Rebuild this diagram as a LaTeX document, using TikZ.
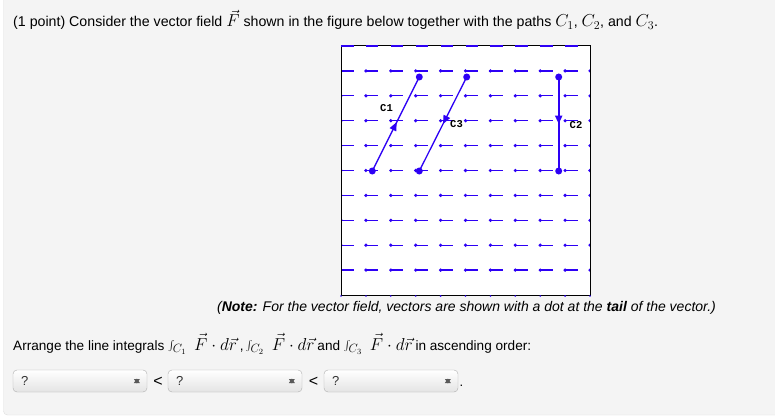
\documentclass[tikz,border=0pt]{standalone}
\usepackage[no-math]{fontspec}
\setmainfont{Liberation Sans}
\newfontfamily\monob{Liberation Mono}[BoldFont={Liberation Mono Bold}]
\usetikzlibrary{arrows.meta,decorations.markings}
\definecolor{fld}{RGB}{45,0,245}
\definecolor{panel}{RGB}{244,244,244}
\definecolor{panelline}{RGB}{222,222,222}
\definecolor{selline}{RGB}{175,175,175}
\definecolor{selbot}{RGB}{228,228,228}
\definecolor{spin}{RGB}{90,90,90}
\newcommand{\mjbig}[1]{{\fontsize{17.3}{18}\selectfont$#1$}}
\newcommand{\mjint}[1]{{\fontsize{17}{18}\selectfont$#1$}}
\newcommand{\lint}[1]{\mjint{\int_{C_{#1}}\;\vec F\cdot d\vec r\,}}
\tikzset{
  txt/.style={anchor=base west, inner sep=0pt},
  pdot/.style={circle, fill=fld, inner sep=0pt, minimum size=7pt},
  lab/.style={inner sep=0pt, font=\fontsize{10.5}{12}\selectfont\monob\bfseries},
  cpath/.style={draw=fld, line width=1.3pt},
  midarrow/.style={postaction={decorate}, decoration={markings,
      mark=at position #1 with {\arrow{Triangle[length=8.5pt,width=7pt]}}}},
  selbox/.style={draw=selline, rounded corners=4pt, top color=white, bottom color=selbot,
      minimum width=134pt, minimum height=22pt, inner sep=0pt},
  qmark/.style={anchor=west, inner sep=0pt, text=black!80, font=\fontsize{13}{15}\selectfont},
}
\begin{document}
\begin{tikzpicture}[x=1pt,y=-1pt]
\useasboundingbox (0,0) rectangle (775,417);
\fill[white] (0,0) rectangle (775,417);
\draw[panelline, fill=panel, rounded corners=4pt] (3.5,-10) rectangle (790,415);

% title line
\node[txt, font=\fontsize{14.2}{15}\selectfont] (t1) at (13,26.7) {(1 point) Consider the vector field \mjbig{\vec F} shown in the figure below together with the paths \mjbig{C_1}, \mjbig{C_2}, and \mjbig{C_3}.};

% plot
\fill[white] (341,46) rectangle (590,295);
\begin{scope}
  \clip (341,46) rectangle (590,295);
  \foreach \i in {0,...,10}{
    \foreach \j in {1,...,9}{
      \fill[fld] (341+24.9*\i, 46+24.9*\j) circle[radius=1.8pt];
      \draw[fld, line width=1.3pt] (340+24.9*\i, 46+24.9*\j) -- ++(13.5,0);
    }
  }
\end{scope}
\draw[black, line width=1pt] (341,46) rectangle (590,295);
\foreach \i in {0,...,9}{
  \draw[fld, line width=1.1pt] (341+24.9*\i, 46) -- ++(12.5,0);
}
\foreach \i in {0,...,10}{
  \fill[fld] (341+24.9*\i, 296) circle[radius=0.9pt];
}

% paths
\node[pdot] (c1a) at (372.3,171) {};
\node[pdot] (c1b) at (419.3,77) {};
\node[pdot] (c3a) at (466.7,77) {};
\node[pdot] (c3b) at (419.3,171) {};
\node[pdot] (c2a) at (558.7,77) {};
\node[pdot] (c2b) at (558.7,171) {};
\draw[cpath, midarrow=0.52] (c1a.center) -- (c1b.center);
\draw[cpath, midarrow=0.5] (c3a.center) -- (c3b.center);
\draw[cpath, line width=2.2pt, midarrow=0.5] (c2a.center) -- (c2b.center);
\node[lab] (l1) at (386.5,108.5) {C1};
\node[lab] (l3) at (456.5,124.5) {C3};
\node[lab] (l2) at (576,125) {C2};

% note
\node[txt, anchor=base, font=\fontsize{14}{16}\selectfont] (note) at (466.5,311) {\itshape(\textbf{Note:} For the vector field, vectors are shown with a dot at the \textbf{tail} of the vector.)};

% question line
\node[txt, font=\fontsize{13.6}{16}\selectfont] (q) at (13,350) {Arrange the line integrals \lint{1},\,\lint{2}and \lint{3}in ascending order:};

% select boxes
\node[selbox] (s1) at (80,381) {};
\node[selbox] (s2) at (235,381) {};
\node[selbox] (s3) at (391,381) {};
\foreach \s in {s1,s2,s3}{
  \node[qmark] at ([xshift=8pt]\s.west) {?};
  \fill[spin] ([xshift=-13.3pt,yshift=-2pt]\s.east) -- ++(3,-4.5) -- ++(3,4.5) -- cycle;
  \fill[spin] ([xshift=-13.3pt,yshift=2pt]\s.east) -- ++(3,4.5) -- ++(3,-4.5) -- cycle;
}
\node[txt, anchor=base, font=\fontsize{16}{18}\selectfont] (lt1) at (158,386.5) {<};
\node[txt, anchor=base, font=\fontsize{16}{18}\selectfont] (lt2) at (313.5,386.5) {<};
\node[txt, font=\fontsize{13}{15}\selectfont] (dot) at (459.5,386) {.};
\end{tikzpicture}
\end{document}
